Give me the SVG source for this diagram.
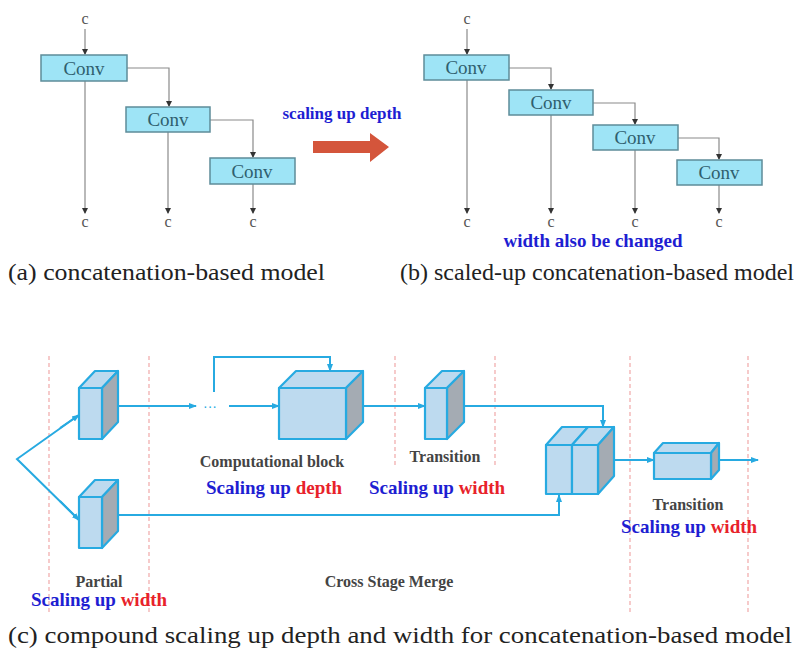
<svg xmlns="http://www.w3.org/2000/svg" width="800" height="659" viewBox="0 0 800 659">
<style>
.conv{fill:#9EE4F6;stroke:#5E8C99;stroke-width:1.5}
.convt{font-family:"Liberation Serif",serif;font-size:19px;fill:#2F5F6E;text-anchor:middle}
.c{font-family:"Liberation Serif",serif;font-size:16px;fill:#555;text-anchor:middle}
.gl{fill:none;stroke:#8A8A8A;stroke-width:1.2}
.cap{font-family:"Liberation Serif",serif;font-size:24px;fill:#222}
.bl{font-family:"Liberation Serif",serif;font-weight:bold;fill:#1E1ED2}
.lbl{font-family:"Liberation Serif",serif;font-weight:bold;font-size:16px;fill:#444;text-anchor:middle}
.sc{font-family:"Liberation Serif",serif;font-weight:bold;font-size:19px}
.dash{stroke:#F0A8A8;stroke-width:1.2;stroke-dasharray:4,3}
.bln{fill:none;stroke:#27AAE1;stroke-width:2}
.front{fill:#BDDAEF;stroke:#27AAE1;stroke-width:2.2;stroke-linejoin:round}
.side{fill:#A4ABB3;stroke:#27AAE1;stroke-width:2.2;stroke-linejoin:round}
</style>
<defs>
<marker id="ga" markerWidth="6" markerHeight="6" refX="5" refY="3" orient="auto" markerUnits="userSpaceOnUse">
<path d="M0,0 L6,3 L0,6 z" fill="#333"/>
</marker>
<marker id="ba" markerWidth="8" markerHeight="8" refX="7" refY="4" orient="auto" markerUnits="userSpaceOnUse">
<path d="M0,1 L8,4 L0,7 z" fill="#27AAE1"/>
</marker>
</defs>
<rect width="800" height="659" fill="#fff"/>

<!-- guide dashed lines -->
<g id="guides">
<line class="dash" x1="49" y1="356" x2="49" y2="615"/>
<line class="dash" x1="149" y1="356" x2="149" y2="615"/>
<line class="dash" x1="395" y1="356" x2="395" y2="466"/>
<line class="dash" x1="495" y1="356" x2="495" y2="468"/>
<line class="dash" x1="630" y1="356" x2="630" y2="615"/>
<line class="dash" x1="748" y1="356" x2="748" y2="615"/>
</g>

<!-- connectors -->
<g id="connectors">
<!-- (a) -->
<path class="gl" d="M85,29 V54" marker-end="url(#ga)"/>
<path class="gl" d="M127,68 H169 V106" marker-end="url(#ga)"/>
<path class="gl" d="M210,120 H253 V157" marker-end="url(#ga)"/>
<path class="gl" d="M85,81 V213" marker-end="url(#ga)"/>
<path class="gl" d="M168,132 V213" marker-end="url(#ga)"/>
<path class="gl" d="M253,184 V213" marker-end="url(#ga)"/>
<!-- (b) -->
<path class="gl" d="M467,29 V54" marker-end="url(#ga)"/>
<path class="gl" d="M509,68 H551 V89" marker-end="url(#ga)"/>
<path class="gl" d="M593,103 H635 V124" marker-end="url(#ga)"/>
<path class="gl" d="M678,138 H719 V159" marker-end="url(#ga)"/>
<path class="gl" d="M467,80 V213" marker-end="url(#ga)"/>
<path class="gl" d="M551,115 V213" marker-end="url(#ga)"/>
<path class="gl" d="M635,150 V213" marker-end="url(#ga)"/>
<path class="gl" d="M719,185 V213" marker-end="url(#ga)"/>
<!-- (c) -->
<path class="bln" d="M79,415 L17,459 L79,520"/>
<path class="bln" d="M60,428 L79,415" marker-end="url(#ba)"/>
<path class="bln" d="M60,501 L79,520" marker-end="url(#ba)"/>
<path class="bln" d="M110,406 H196" marker-end="url(#ba)"/>
<path class="bln" d="M229,406 H279" marker-end="url(#ba)"/>
<path class="bln" d="M214,392 V357 H330 V371" marker-end="url(#ba)"/>
<path class="bln" d="M360,406 H425" marker-end="url(#ba)"/>
<path class="bln" d="M455,406 H603 V427" marker-end="url(#ba)"/>
<path class="bln" d="M110,515 H559 V495" marker-end="url(#ba)"/>
<path class="bln" d="M603,460 H654" marker-end="url(#ba)"/>
<path class="bln" d="M713,460 H758" marker-end="url(#ba)"/>
</g>

<!-- (a) nodes -->
<g id="a-c-top"><text class="c" x="85" y="24">c</text></g>
<g id="a-conv1"><rect class="conv" x="41" y="55" width="86" height="26"/><text class="convt" x="84" y="74.5">Conv</text></g>
<g id="a-conv2"><rect class="conv" x="126" y="107" width="84" height="25"/><text class="convt" x="168" y="126">Conv</text></g>
<g id="a-conv3"><rect class="conv" x="210" y="158" width="85" height="26"/><text class="convt" x="252" y="177.5">Conv</text></g>
<g id="a-c-out">
<text class="c" x="85" y="227">c</text>
<text class="c" x="168" y="227">c</text>
<text class="c" x="253" y="227">c</text>
</g>
<text class="cap" x="8" y="280" textLength="317" lengthAdjust="spacingAndGlyphs">(a) concatenation-based model</text>

<!-- middle arrow -->
<g id="scale-arrow">
<text class="bl" x="342" y="119" font-size="17" text-anchor="middle">scaling up depth</text>
<polygon points="313,141 370,141 370,133 389,147 370,162 370,153 313,153" fill="#D4553B"/>
</g>

<!-- (b) nodes -->
<g id="b-c-top"><text class="c" x="467" y="24">c</text></g>
<g id="b-conv1"><rect class="conv" x="424" y="55" width="85" height="25"/><text class="convt" x="466" y="74">Conv</text></g>
<g id="b-conv2"><rect class="conv" x="509" y="90" width="84" height="25"/><text class="convt" x="551" y="109">Conv</text></g>
<g id="b-conv3"><rect class="conv" x="593" y="125" width="85" height="25"/><text class="convt" x="635" y="144">Conv</text></g>
<g id="b-conv4"><rect class="conv" x="677" y="160" width="85" height="25"/><text class="convt" x="719" y="179">Conv</text></g>
<g id="b-c-out">
<text class="c" x="467" y="227">c</text>
<text class="c" x="551" y="227">c</text>
<text class="c" x="635" y="227">c</text>
<text class="c" x="719" y="227">c</text>
</g>
<text class="bl" x="593" y="247" font-size="19" text-anchor="middle">width also be changed</text>
<text class="cap" x="400" y="280" textLength="394" lengthAdjust="spacingAndGlyphs">(b) scaled-up concatenation-based model</text>

<!-- (c) nodes -->
<g id="partial-top">
<polygon class="front" points="79,388 95,371 118,371 102,388"/>
<polygon class="side" points="102,388 118,371 118,422 102,439"/>
<rect class="front" x="79" y="388" width="23" height="51"/>
</g>
<g id="partial-bottom">
<polygon class="front" points="79,497 95,480 118,480 102,497"/>
<polygon class="side" points="102,497 118,480 118,531 102,548"/>
<rect class="front" x="79" y="497" width="23" height="51"/>
</g>
<g id="dots"><text x="210" y="411" font-family="Liberation Sans,sans-serif" font-size="14" fill="#27AAE1" text-anchor="middle">···</text></g>
<g id="comp-block">
<polygon class="front" points="279,388 296,371 363,371 346,388"/>
<polygon class="side" points="346,388 363,371 363,422 346,439"/>
<rect class="front" x="279" y="388" width="67" height="51"/>
</g>
<g id="transition1">
<polygon class="front" points="425,388 442,371 464,371 447,388"/>
<polygon class="side" points="447,388 464,371 464,422 447,439"/>
<rect class="front" x="425" y="388" width="22" height="51"/>
</g>
<g id="merge">
<polygon class="front" points="546,445 562,427 588,427 572,445"/>
<polygon class="front" points="572,445 588,427 614,427 598,445"/>
<polygon class="side" points="598,445 614,427 614,476 598,494"/>
<rect class="front" x="546" y="445" width="26" height="49"/>
<rect class="front" x="572" y="445" width="26" height="49"/>
</g>
<g id="transition2">
<polygon class="front" points="654,453 663,443 719,443 711,453"/>
<polygon class="side" points="711,453 719,443 719,470 711,479"/>
<rect class="front" x="654" y="453" width="57" height="26"/>
</g>

<!-- (c) labels -->
<g id="labels">
<text class="lbl" x="272" y="467">Computational block</text>
<text class="sc" x="274" y="494" text-anchor="middle"><tspan fill="#1E1ED2">Scaling up </tspan><tspan fill="#E8222A">depth</tspan></text>
<text class="lbl" x="445" y="462">Transition</text>
<text class="sc" x="437" y="494" text-anchor="middle"><tspan fill="#1E1ED2">Scaling up </tspan><tspan fill="#E8222A">width</tspan></text>
<text class="lbl" x="99" y="587">Partial</text>
<text class="sc" x="99" y="606" text-anchor="middle"><tspan fill="#1E1ED2">Scaling up </tspan><tspan fill="#E8222A">width</tspan></text>
<text class="lbl" x="389" y="587">Cross Stage Merge</text>
<text class="lbl" x="688" y="510">Transition</text>
<text class="sc" x="689" y="533" text-anchor="middle"><tspan fill="#1E1ED2">Scaling up </tspan><tspan fill="#E8222A">width</tspan></text>
</g>
<text class="cap" x="8" y="643" textLength="784" lengthAdjust="spacingAndGlyphs">(c) compound scaling up depth and width for concatenation-based model</text>
</svg>
